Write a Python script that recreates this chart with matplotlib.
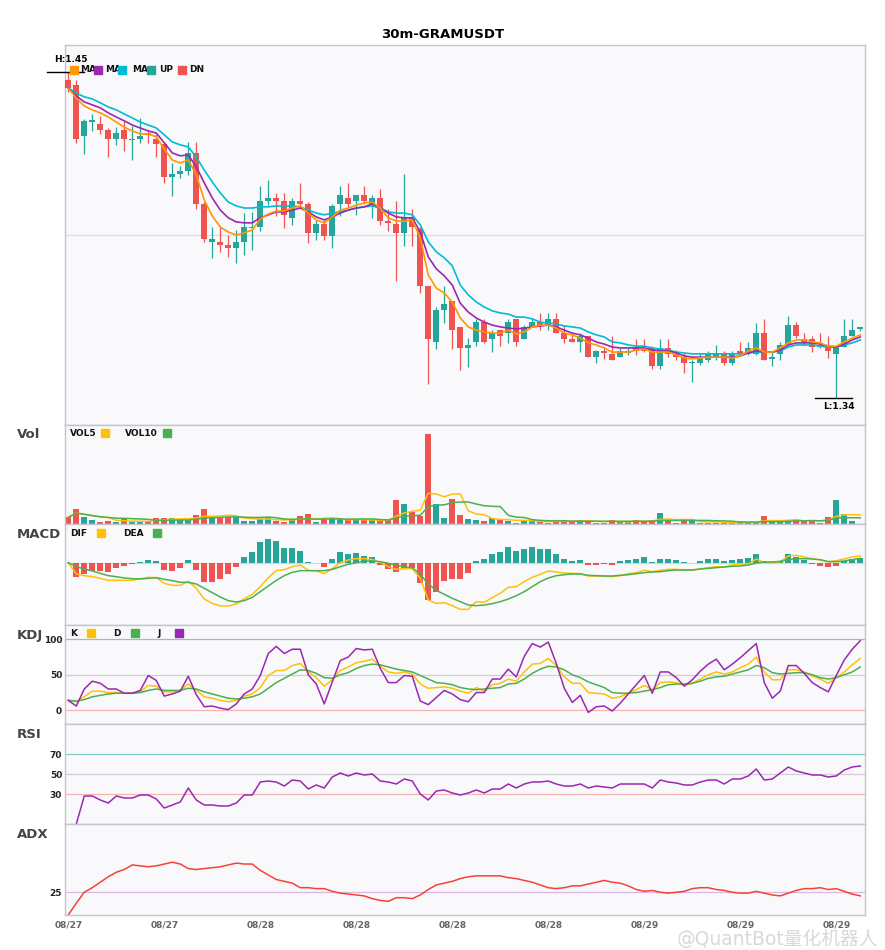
import numpy as np
import pandas as pd
import matplotlib
matplotlib.use("Agg")
import matplotlib.pyplot as plt
from matplotlib.patches import Rectangle

# --- OHLC (30m candles) ---
opens = [1.4473, 1.4456, 1.4284, 1.4331, 1.4325, 1.4304, 1.4274, 1.4304, 1.4271, 1.4274,
         1.4294, 1.4274, 1.4257, 1.4146, 1.4156, 1.4166, 1.4227, 1.4055, 1.3927, 1.3927,
         1.3916, 1.3906, 1.3927, 1.3974, 1.3977, 1.4065, 1.4075, 1.4065, 1.4008, 1.4065,
         1.4055, 1.3957, 1.3987, 1.3947, 1.4055, 1.4075, 1.4065, 1.4085, 1.4055, 1.4075,
         1.3997, 1.3987, 1.3957, 1.4008, 1.3970, 1.3778, 1.3589, 1.3697, 1.3727, 1.3640,
         1.3569, 1.3589, 1.3656, 1.3599, 1.3629, 1.3619, 1.3667, 1.3599, 1.3640, 1.3656,
         1.3646, 1.3667, 1.3619, 1.3599, 1.3589, 1.3609, 1.3538, 1.3559, 1.3549, 1.3538,
         1.3552, 1.3569, 1.3569, 1.3569, 1.3508, 1.3569, 1.3549, 1.3538, 1.3518, 1.3518,
         1.3528, 1.3538, 1.3549, 1.3518, 1.3559, 1.3549, 1.3549, 1.3619, 1.3532, 1.3549,
         1.3579, 1.3646, 1.3599, 1.3599, 1.3579, 1.3572, 1.3549, 1.3572, 1.3609, 1.3633]
highs = [1.4500, 1.4473, 1.4342, 1.4358, 1.4352, 1.4311, 1.4314, 1.4335, 1.4318, 1.4345,
         1.4304, 1.4291, 1.4264, 1.4193, 1.4183, 1.4264, 1.4264, 1.4061, 1.3977, 1.3977,
         1.3950, 1.3967, 1.4024, 1.4028, 1.4115, 1.4136, 1.4092, 1.4092, 1.4075, 1.4126,
         1.4061, 1.4001, 1.4001, 1.4055, 1.4115, 1.4126, 1.4085, 1.4115, 1.4085, 1.4105,
         1.4038, 1.4065, 1.4156, 1.4038, 1.3977, 1.3778, 1.3707, 1.3778, 1.3727, 1.3640,
         1.3602, 1.3667, 1.3667, 1.3629, 1.3629, 1.3667, 1.3667, 1.3646, 1.3667, 1.3687,
         1.3687, 1.3687, 1.3646, 1.3619, 1.3619, 1.3609, 1.3562, 1.3572, 1.3609, 1.3569,
         1.3569, 1.3599, 1.3599, 1.3575, 1.3599, 1.3599, 1.3562, 1.3552, 1.3528, 1.3552,
         1.3559, 1.3579, 1.3559, 1.3559, 1.3589, 1.3589, 1.3653, 1.3667, 1.3555, 1.3589,
         1.3677, 1.3656, 1.3619, 1.3609, 1.3619, 1.3609, 1.3572, 1.3667, 1.3667, 1.3640]
lows = [1.4433, 1.4261, 1.4223, 1.4301, 1.4291, 1.4213, 1.4254, 1.4233, 1.4203, 1.4261,
        1.4261, 1.4213, 1.4126, 1.4082, 1.4142, 1.4153, 1.4038, 1.3927, 1.3873, 1.3893,
        1.3876, 1.3856, 1.3883, 1.3900, 1.3964, 1.4051, 1.4014, 1.3974, 1.3984, 1.4045,
        1.3923, 1.3933, 1.3933, 1.3906, 1.4014, 1.4045, 1.4018, 1.4055, 1.4008, 1.3984,
        1.3964, 1.3795, 1.3913, 1.3913, 1.3754, 1.3447, 1.3565, 1.3653, 1.3565, 1.3494,
        1.3505, 1.3575, 1.3586, 1.3555, 1.3575, 1.3586, 1.3575, 1.3599, 1.3640, 1.3629,
        1.3629, 1.3619, 1.3586, 1.3589, 1.3555, 1.3538, 1.3518, 1.3532, 1.3528, 1.3538,
        1.3545, 1.3545, 1.3555, 1.3498, 1.3498, 1.3538, 1.3528, 1.3484, 1.3454, 1.3511,
        1.3522, 1.3528, 1.3511, 1.3511, 1.3545, 1.3545, 1.3545, 1.3528, 1.3508, 1.3528,
        1.3579, 1.3602, 1.3579, 1.3555, 1.3569, 1.3535, 1.3400, 1.3572, 1.3609, 1.3626]
closes = [1.4446, 1.4274, 1.4335, 1.4338, 1.4304, 1.4274, 1.4294, 1.4274, 1.4274, 1.4284,
          1.4288, 1.4257, 1.4146, 1.4156, 1.4166, 1.4227, 1.4055, 1.3937, 1.3937, 1.3916,
          1.3906, 1.3927, 1.3977, 1.3977, 1.4065, 1.4075, 1.4065, 1.4018, 1.4065, 1.4055,
          1.3957, 1.3987, 1.3947, 1.4048, 1.4085, 1.4055, 1.4085, 1.4065, 1.4075, 1.3997,
          1.3991, 1.3957, 1.4008, 1.3977, 1.3778, 1.3599, 1.3697, 1.3717, 1.3629, 1.3569,
          1.3579, 1.3656, 1.3589, 1.3619, 1.3609, 1.3656, 1.3589, 1.3640, 1.3656, 1.3646,
          1.3667, 1.3619, 1.3599, 1.3589, 1.3609, 1.3538, 1.3559, 1.3552, 1.3528, 1.3559,
          1.3559, 1.3559, 1.3559, 1.3508, 1.3569, 1.3549, 1.3538, 1.3518, 1.3522, 1.3538,
          1.3549, 1.3549, 1.3518, 1.3549, 1.3549, 1.3569, 1.3619, 1.3528, 1.3538, 1.3579,
          1.3646, 1.3609, 1.3589, 1.3572, 1.3572, 1.3559, 1.3572, 1.3609, 1.3629, 1.3640]

# moving averages
ma_fast = [1.4446, 1.4412, 1.4385, 1.4372, 1.4362, 1.4348, 1.4331, 1.4314, 1.4301, 1.4291,
           1.4291, 1.4281, 1.4240, 1.4203, 1.4193, 1.4203, 1.4153, 1.4068, 1.4014, 1.3977,
           1.3960, 1.3950, 1.3957, 1.3967, 1.4004, 1.4021, 1.4031, 1.4031, 1.4041, 1.4048,
           1.4024, 1.4001, 1.3991, 1.4011, 1.4034, 1.4041, 1.4051, 1.4058, 1.4061, 1.4041,
           1.4008, 1.3997, 1.3997, 1.4001, 1.3940, 1.3815, 1.3771, 1.3754, 1.3724, 1.3670,
           1.3640, 1.3629, 1.3623, 1.3619, 1.3619, 1.3629, 1.3616, 1.3623, 1.3640, 1.3646,
           1.3646, 1.3636, 1.3619, 1.3613, 1.3602, 1.3586, 1.3579, 1.3569, 1.3555, 1.3555,
           1.3555, 1.3562, 1.3565, 1.3555, 1.3555, 1.3555, 1.3545, 1.3535, 1.3532, 1.3535,
           1.3538, 1.3538, 1.3538, 1.3535, 1.3542, 1.3559, 1.3569, 1.3555, 1.3555, 1.3569,
           1.3586, 1.3596, 1.3596, 1.3589, 1.3586, 1.3575, 1.3575, 1.3589, 1.3602, 1.3613]
ma_mid = [1.4446, 1.4419, 1.4399, 1.4389, 1.4379, 1.4362, 1.4348, 1.4335, 1.4321, 1.4311,
          1.4301, 1.4294, 1.4261, 1.4227, 1.4217, 1.4220, 1.4180, 1.4126, 1.4075, 1.4034,
          1.4008, 1.3994, 1.3991, 1.3991, 1.4008, 1.4018, 1.4028, 1.4028, 1.4034, 1.4041,
          1.4028, 1.4011, 1.4001, 1.4011, 1.4024, 1.4034, 1.4041, 1.4045, 1.4055, 1.4041,
          1.4024, 1.4011, 1.4008, 1.4008, 1.3960, 1.3876, 1.3836, 1.3812, 1.3781, 1.3720,
          1.3690, 1.3670, 1.3656, 1.3646, 1.3640, 1.3636, 1.3633, 1.3636, 1.3640, 1.3643,
          1.3646, 1.3640, 1.3629, 1.3619, 1.3613, 1.3602, 1.3589, 1.3582, 1.3572, 1.3569,
          1.3569, 1.3569, 1.3569, 1.3562, 1.3559, 1.3559, 1.3552, 1.3542, 1.3538, 1.3538,
          1.3538, 1.3538, 1.3538, 1.3538, 1.3542, 1.3552, 1.3559, 1.3555, 1.3555, 1.3562,
          1.3579, 1.3586, 1.3586, 1.3586, 1.3582, 1.3575, 1.3572, 1.3582, 1.3596, 1.3606]
ma_slow = [1.4446, 1.4429, 1.4416, 1.4409, 1.4396, 1.4382, 1.4372, 1.4358, 1.4345, 1.4331,
           1.4321, 1.4311, 1.4288, 1.4264, 1.4254, 1.4247, 1.4213, 1.4169, 1.4129, 1.4092,
           1.4061, 1.4048, 1.4041, 1.4041, 1.4045, 1.4045, 1.4048, 1.4048, 1.4048, 1.4045,
           1.4034, 1.4024, 1.4018, 1.4024, 1.4028, 1.4034, 1.4041, 1.4045, 1.4048, 1.4041,
           1.4028, 1.4024, 1.4024, 1.4018, 1.3984, 1.3927, 1.3893, 1.3873, 1.3846, 1.3781,
           1.3748, 1.3724, 1.3707, 1.3694, 1.3687, 1.3683, 1.3673, 1.3673, 1.3667, 1.3656,
           1.3653, 1.3650, 1.3643, 1.3640, 1.3636, 1.3623, 1.3613, 1.3606, 1.3589, 1.3586,
           1.3579, 1.3575, 1.3575, 1.3569, 1.3565, 1.3562, 1.3555, 1.3552, 1.3549, 1.3549,
           1.3549, 1.3549, 1.3549, 1.3549, 1.3549, 1.3552, 1.3555, 1.3555, 1.3555, 1.3559,
           1.3572, 1.3579, 1.3579, 1.3579, 1.3575, 1.3572, 1.3572, 1.3579, 1.3586, 1.3596]

volume = [20, 46, 22, 13, 7, 10, 5, 14, 7, 7, 8, 19, 19, 19, 12, 11, 28, 46, 19, 18,
          21, 21, 10, 10, 14, 20, 10, 7, 11, 25, 30, 7, 14, 16, 14, 12, 12, 11, 11, 8,
          15, 73, 60, 35, 25, 271, 60, 19, 76, 28, 15, 12, 9, 18, 15, 10, 4, 8, 11, 7,
          4, 13, 8, 8, 13, 8, 4, 4, 13, 6, 6, 13, 6, 13, 34, 8, 4, 8, 12, 4,
          4, 4, 2, 4, 9, 6, 6, 25, 6, 6, 13, 15, 8, 8, 4, 22, 73, 31, 10, 1]
volume = [v * 1000 for v in volume]

# MACD (units of 1e-4)
dif = [0, -34, -39, -42, -47, -53, -53, -53, -53, -48, -44, -45, -62, -68, -68, -56, -77, -109, -122, -130,
       -130, -124, -108, -95, -72, -45, -24, -21, -12, -7, -23, -25, -33, -18, 0, 8, 12, 12, 9, 1,
       -12, -20, -18, -18, -47, -112, -122, -120, -129, -140, -140, -117, -119, -105, -92, -74, -72, -57, -44, -35,
       -25, -28, -31, -32, -33, -40, -40, -40, -42, -39, -33, -30, -23, -27, -23, -20, -20, -22, -22, -19,
       -15, -12, -13, -7, -4, -4, 11, 0, 0, 3, 20, 22, 17, 12, 8, 3, 6, 11, 17, 20]
dea = [0, -12, -19, -25, -32, -39, -42, -46, -48, -49, -47, -45, -50, -54, -59, -59, -64, -77, -90, -103,
       -114, -118, -114, -104, -87, -70, -53, -39, -29, -24, -24, -24, -24, -20, -12, -5, 0, 5, 5, 3,
       -2, -8, -12, -15, -35, -64, -83, -95, -107, -117, -127, -129, -127, -123, -117, -109, -99, -87, -72, -57,
       -46, -39, -36, -34, -34, -38, -39, -40, -40, -38, -36, -33, -30, -28, -27, -24, -22, -22, -22, -19,
       -17, -15, -13, -11, -10, -7, -1, 2, 2, 4, 9, 12, 12, 11, 9, 3, 3, 5, 9, 13]
macd_hist = [0, -42, -35, -25, -25, -27, -15, -9, -3, 2, 8, 5, -22, -25, -15, 8, -22, -57, -57, -49,
             -34, -12, 17, 32, 62, 71, 65, 44, 44, 35, 2, 0, -12, 11, 32, 26, 29, 20, 17, -6,
             -18, -27, -15, -15, -60, -111, -87, -54, -48, -48, -30, 6, 11, 26, 32, 47, 35, 41, 47, 41,
             41, 26, 11, 5, 8, -6, -6, -3, -6, 5, 8, 11, 17, 2, 11, 11, 8, 2, 0, 5,
             11, 11, 5, 8, 11, 14, 26, 5, 3, 5, 26, 17, 8, -3, -9, -12, -9, 5, 11, 14]

# KDJ
k_line = [14, 12, 19, 27, 27, 25, 25, 24, 24, 26, 35, 34, 26, 26, 28, 37, 28, 19, 17, 14,
          12, 14, 20, 23, 32, 49, 56, 56, 63, 66, 54, 46, 34, 43, 56, 61, 67, 69, 72, 62,
          54, 52, 54, 51, 37, 31, 32, 33, 31, 27, 24, 32, 27, 36, 38, 44, 41, 54, 65, 66,
          73, 63, 47, 38, 38, 25, 24, 23, 17, 19, 24, 29, 35, 29, 39, 40, 39, 35, 38, 44,
          50, 54, 51, 54, 60, 65, 75, 54, 43, 43, 57, 57, 54, 48, 44, 38, 46, 54, 64, 73]
d_line = [14, 13, 15, 19, 21, 23, 24, 24, 24, 25, 28, 30, 28, 28, 28, 31, 30, 26, 23, 20,
          17, 16, 17, 19, 23, 31, 39, 45, 51, 57, 56, 52, 46, 45, 50, 53, 59, 63, 65, 64,
          61, 58, 56, 54, 49, 44, 39, 38, 36, 32, 30, 29, 30, 31, 32, 37, 38, 44, 52, 58,
          62, 61, 57, 50, 46, 40, 36, 32, 25, 24, 24, 25, 27, 29, 32, 36, 37, 37, 38, 41,
          45, 47, 48, 51, 54, 57, 63, 60, 53, 51, 52, 53, 53, 50, 46, 44, 46, 50, 54, 61]
j_line = [14, 6, 30, 41, 38, 30, 30, 24, 24, 28, 49, 42, 20, 23, 27, 48, 22, 5, 6, 3,
          1, 9, 23, 30, 49, 80, 90, 80, 86, 86, 50, 37, 9, 40, 70, 75, 87, 85, 86, 59,
          39, 39, 49, 48, 13, 8, 18, 28, 23, 15, 12, 25, 25, 44, 44, 58, 47, 76, 94, 89,
          96, 66, 31, 11, 21, -3, 5, 6, -1, 10, 23, 36, 49, 24, 54, 54, 46, 34, 43, 55,
          65, 72, 57, 65, 74, 84, 94, 39, 17, 27, 63, 63, 52, 39, 32, 26, 49, 71, 86, 98]

rsi = [np.nan, 0, 28, 28, 24, 21, 28, 26, 26, 29, 29, 25, 16, 19, 22, 36, 24, 19, 19, 18,
       18, 21, 29, 29, 42, 43, 42, 38, 44, 43, 35, 39, 36, 47, 51, 48, 51, 49, 50, 43,
       42, 40, 45, 43, 30, 24, 33, 34, 31, 29, 31, 34, 31, 35, 35, 40, 36, 40, 42, 42,
       43, 40, 38, 38, 40, 36, 38, 37, 36, 40, 40, 40, 40, 36, 44, 42, 41, 39, 39, 42,
       44, 44, 40, 45, 45, 48, 55, 44, 45, 51, 57, 53, 51, 49, 49, 47, 48, 54, 57, 58]
adx = [0, 13, 25, 30, 36, 42, 47, 50, 55, 54, 53, 54, 56, 58, 56, 51, 50, 51, 52, 53,
       55, 57, 56, 56, 49, 44, 39, 37, 35, 30, 30, 29, 29, 26, 24, 23, 22, 21, 18, 16,
       15, 19, 19, 18, 22, 28, 33, 35, 37, 40, 42, 43, 43, 43, 43, 41, 40, 38, 36, 33,
       30, 29, 30, 32, 32, 34, 36, 38, 36, 35, 32, 28, 26, 27, 25, 24, 25, 26, 29, 30,
       30, 28, 27, 25, 24, 24, 26, 24, 22, 21, 24, 27, 29, 29, 30, 28, 29, 26, 23, 21]

tick_pos = [0, 12, 24, 36, 48, 60, 72, 84, 96]
tick_labels = ["08/27", "08/27", "08/28", "08/28", "08/28", "08/28", "08/29", "08/29", "08/29"]

# --- colours ---
UP, DN = "#26a69a", "#ef5350"
BG, SPINE = "#f9f9fb", "#c4c4cc"
ORANGE, PURPLE, CYAN = "#ff9800", "#9c27b0", "#00bcd4"
AMBER, GREEN = "#ffc107", "#4caf50"

W, H = 885, 950
fig = plt.figure(figsize=(W / 100, H / 100), dpi=100)
fig.patch.set_facecolor("white")


def fx(px):
    return px / W


def fy(py):
    return 1 - py / H


def panel(top, bottom):
    ax = fig.add_axes([fx(65), fy(bottom), 800 / W, (bottom - top) / H])
    ax.set_facecolor(BG)
    ax.set_xlim(-0.41, 99.59)
    for s in ax.spines.values():
        s.set_color(SPINE)
        s.set_linewidth(1)
    ax.set_xticks([])
    ax.set_yticks([])
    return ax


def square(x, y, color):
    fig.add_artist(Rectangle((fx(x), fy(y + 4)), 8 / W, 8 / H, transform=fig.transFigure,
                             color=color, zorder=10))


def label(x, y, s, size=6.5, color="#111"):
    fig.text(fx(x), fy(y), s, ha="left", va="center", fontsize=size,
             fontweight="bold", color=color, zorder=9)


def side_title(y, s):
    fig.text(fx(17), fy(y), s, ha="left", va="center", fontsize=9.5,
             fontweight="bold", color="#444")


def yticks(ax, vals):
    ax.set_yticks(vals)
    ax.set_yticklabels([str(v) for v in vals])
    ax.tick_params(axis="y", length=0, pad=2, labelsize=6.5, labelcolor="#222")
    for t in ax.get_yticklabels():
        t.set_fontweight("bold")


x = np.arange(len(closes))
o, h, l, c = map(np.array, (opens, highs, lows, closes))
up = c >= o
cols = np.where(up, UP, DN)

# --- price panel ---
ax1 = panel(45, 425)
ax1.set_ylim(1.3309, 1.4591)
ax1.axhline((1.3309 + 1.4591) / 2, color="#dcdce3", lw=0.9, zorder=0)
ax1.vlines(x, l, h, colors=cols, lw=0.9, zorder=2)
ax1.bar(x, np.maximum(np.abs(c - o), 0.0003), 0.72, bottom=np.minimum(o, c), color=cols, zorder=3)
ax1.plot(x, ma_slow, color=CYAN, lw=1.2, zorder=4)
ax1.plot(x, ma_mid, color=PURPLE, lw=1.2, zorder=4)
ax1.plot(x, ma_fast, color=ORANGE, lw=1.2, zorder=4)

hi_i, lo_i = int(np.argmax(h)), int(np.argmin(l))
ax1.plot([hi_i - 2.6, hi_i + 2.0], [h[hi_i]] * 2, color="black", lw=1, clip_on=False, zorder=6)
ax1.annotate(f"H:{h[hi_i]:.2f}", (hi_i + 0.3, h[hi_i]), xytext=(0, 5.5), textcoords="offset points",
             ha="center", va="bottom", fontsize=6.5, fontweight="bold", annotation_clip=False, zorder=6)
ax1.plot([lo_i - 2.7, lo_i + 2.0], [l[lo_i]] * 2, color="black", lw=1, clip_on=False, zorder=6)
ax1.annotate(f"L:{l[lo_i]:.2f}", (lo_i + 0.3, l[lo_i]), xytext=(0, -3), textcoords="offset points",
             ha="center", va="top", fontsize=6.5, fontweight="bold", annotation_clip=False, zorder=6)

square(70, 70, ORANGE); label(80, 70, "MA")
square(94, 70, PURPLE); label(105, 70, "MA")
square(118, 70, CYAN); label(132, 70, "MA")
square(147, 70, UP); label(159, 70, "UP")
square(178, 70, DN); label(189, 70, "DN")

# --- volume ---
ax2 = panel(425, 524)
ax2.set_ylim(0, 298000)
ax2.bar(x, volume, 0.72, color=cols)
vs = pd.Series(volume)
ax2.plot(x, vs.rolling(5, min_periods=1).mean(), color=AMBER, lw=1.1)
ax2.plot(x, vs.rolling(10, min_periods=1).mean(), color=GREEN, lw=1.1)
side_title(435, "Vol")
label(70, 433, "VOL5"); square(101, 433, AMBER)
label(125, 433, "VOL10"); square(163, 433, GREEN)

# --- MACD ---
ax3 = panel(524, 625)
ax3.set_ylim(-187, 116)
ax3.axhline(0, color="#d5d5dc", lw=0.9, zorder=0)
mh = np.array(macd_hist)
ax3.bar(x, mh, 0.72, color=np.where(mh >= 0, UP, DN))
ax3.plot(x, dif, color=AMBER, lw=1.1)
ax3.plot(x, dea, color=GREEN, lw=1.1)
side_title(535, "MACD")
label(70, 533, "DIF"); square(97, 533, AMBER)
label(123, 533, "DEA"); square(153, 533, GREEN)

# --- KDJ ---
ax4 = panel(625, 724)
ax4.set_ylim(-19.3, 120.1)
ax4.axhline(100, color="#80cbc4", lw=0.9)
ax4.axhline(50, color="#d0d0d6", lw=0.9)
ax4.axhline(0, color="#f4b4b4", lw=0.9)
ax4.plot(x, k_line, color=AMBER, lw=1.1)
ax4.plot(x, d_line, color=GREEN, lw=1.1)
ax4.plot(x, j_line, color=PURPLE, lw=1.1)
yticks(ax4, [0, 50, 100])
side_title(635, "KDJ")
label(70, 633, "K"); square(87, 633, AMBER)
label(113, 633, "D"); square(131, 633, GREEN)
label(157, 633, "J"); square(175, 633, PURPLE)

# --- RSI ---
ax5 = panel(724, 824)
ax5.set_ylim(0, 100)
ax5.axhline(70, color="#80cbc4", lw=0.9)
ax5.axhline(50, color="#d0d0d6", lw=0.9)
ax5.axhline(30, color="#f4b4b4", lw=0.9)
ax5.plot(x, rsi, color=PURPLE, lw=1.1)
yticks(ax5, [30, 50, 70])
side_title(735, "RSI")

# --- ADX ---
ax6 = panel(824, 915)
ax6.set_ylim(0, 100)
ax6.axhline(25, color="#dcb6e4", lw=0.9)
ax6.plot(x, adx, color="#f44336", lw=1.1)
yticks(ax6, [25])
side_title(835, "ADX")
ax6.set_xticks(tick_pos)
ax6.set_xticklabels(tick_labels)
ax6.tick_params(axis="x", length=0, pad=4, labelsize=6.5, labelcolor="#666")
for t in ax6.get_xticklabels():
    t.set_fontweight("bold")

fig.text(0.5, fy(34), "30m-GRAMUSDT", ha="center", va="center", fontsize=9.5, fontweight="bold")
# watermark, kept just below the date labels
fig.text(fx(878), fy(939), "@QuantBot量化机器人", ha="right", va="center", fontsize=13.5,
         color="#cfcfcf", alpha=0.8, family=["DejaVu Sans", "Noto Sans CJK SC"])

fig.savefig("out.png", dpi=100)
